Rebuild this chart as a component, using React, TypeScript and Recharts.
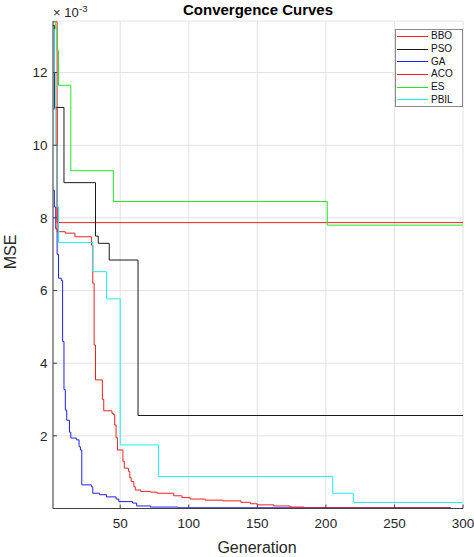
import React from 'react';
import { LineChart, Line, XAxis, YAxis, CartesianGrid, Legend } from 'recharts';

// ---- data (MSE in units of 1e-3) ----
const SERIES_NAMES = ['BBO', 'PSO', 'GA', 'ACO', 'ES', 'PBIL'];
const SERIES_COLORS = ['#f02020', '#1a1a1a', '#2020f0', '#f02020', '#20e820', '#20eeee'];
const X_TICKS = [50, 100, 150, 200, 250, 300];
const Y_TICKS = [2, 4, 6, 8, 10, 12];

const BBO_GEN = [1, 4, 300];
const BBO_MSE = [13.4, 7.87, 7.87];

const PSO_GEN = [1, 2, 9, 32, 34, 42, 63, 300];
const PSO_MSE = [13.3, 11.04, 8.97, 7.5, 7.3, 6.84, 2.56, 2.56];

const GA_GEN = [1, 2, 3, 4, 5, 7, 8, 9, 10, 11, 13, 14, 18, 20, 21, 22, 29, 30, 35, 40, 47, 49, 59, 62, 72, 92, 291];
const GA_MSE = [8.76, 8.3, 7.7, 7.0, 6.34, 6.28, 4.6, 3.27, 2.71, 2.43, 2.1, 1.94, 1.89, 1.7, 1.61, 0.65, 0.6, 0.42, 0.38, 0.32, 0.26, 0.19, 0.15, 0.07, 0.04, 0.02, 0.02];

const ACO_GEN = [1, 4, 10, 17, 29, 30, 31, 32, 37, 38, 44, 45, 46, 47, 48, 52, 53, 56, 57, 58, 60, 61, 65, 72, 77, 89, 95, 101, 112, 125, 138, 145, 150, 162, 174, 184, 291];
const ACO_MSE = [11.0, 7.62, 7.58, 7.48, 7.25, 6.2, 4.5, 3.54, 3.0, 2.69, 2.62, 2.58, 2.3, 1.95, 1.61, 1.3, 1.11, 1.02, 0.85, 0.74, 0.6, 0.51, 0.47, 0.45, 0.42, 0.35, 0.3, 0.26, 0.23, 0.21, 0.17, 0.13, 0.1, 0.07, 0.04, 0.02, 0.02];

const ES_GEN = [1, 3, 4, 5, 14, 45, 201, 300];
const ES_MSE = [13.4, 13.2, 12.6, 11.65, 9.3, 8.45, 7.8, 7.8];

const PBIL_GEN = [1, 2, 3, 4, 5, 30, 40, 50, 78, 205, 220, 300];
const PBIL_MSE = [13.2, 12.0, 10.0, 8.3, 7.32, 6.52, 5.77, 1.75, 0.88, 0.42, 0.165, 0.165];

const GENS = [BBO_GEN, PSO_GEN, GA_GEN, ACO_GEN, ES_GEN, PBIL_GEN];
const VALUES = [BBO_MSE, PSO_MSE, GA_MSE, ACO_MSE, ES_MSE, PBIL_MSE];

const seriesData = SERIES_NAMES.map((name, s) => ({
  name,
  color: SERIES_COLORS[s],
  data: GENS[s].map((g, i) => ({ gen: g, mse: VALUES[s][i] })),
}));

const FONT = '"Liberation Sans", Arial, Helvetica, sans-serif';
const X_DOMAIN: [number, number] = [1, 300];
const Y_DOMAIN: [number, number] = [0, 13.42];

const renderLegend = () => (
  <div
    style={{
      width: 68,
      height: 78,
      boxSizing: 'border-box',
      border: '1px solid #8a8a8a',
      background: '#ffffff',
      fontFamily: FONT,
    }}
  >
    {SERIES_NAMES.map((name, i) => (
      <div key={name} style={{ height: 12.7, display: 'flex', alignItems: 'center' }}>
        <div style={{ marginLeft: 1, width: 31, height: 0, borderTop: `1px solid ${SERIES_COLORS[i]}` }} />
        <span style={{ marginLeft: 3, fontSize: 10, color: '#111', lineHeight: '12px' }}>{name}</span>
      </div>
    ))}
  </div>
);

export default function App() {
  return (
    <div style={{ position: 'absolute', left: 0, top: 0, width: 474, height: 557, background: '#fff' }}>
      <LineChart width={474} height={557} margin={{ top: 21, right: 11, bottom: 0, left: 0 }}>
        <CartesianGrid stroke="#e2e2e2" strokeWidth={1} />
        <XAxis
          xAxisId={0}
          dataKey="gen"
          type="number"
          domain={X_DOMAIN}
          ticks={X_TICKS}
          interval={0}
          height={48.5}
          allowDataOverflow
          axisLine={{ stroke: '#404040' }}
          tickLine={{ stroke: '#404040' }}
          tickSize={-4}
          tickMargin={13.5}
          tick={{ fill: '#262626', fontSize: 13.5, fontFamily: FONT }}
        />
        <XAxis
          xAxisId="top"
          orientation="top"
          type="number"
          domain={X_DOMAIN}
          ticks={X_TICKS}
          interval={0}
          height={0}
          allowDataOverflow
          axisLine={{ stroke: '#404040' }}
          tickLine={{ stroke: '#404040' }}
          tickSize={-4}
          tick={false}
        />
        <YAxis
          yAxisId={0}
          type="number"
          domain={Y_DOMAIN}
          ticks={Y_TICKS}
          interval={0}
          width={53}
          allowDataOverflow
          axisLine={{ stroke: '#404040' }}
          tickLine={{ stroke: '#404040' }}
          tickSize={-4}
          tickMargin={9.5}
          tick={{ fill: '#262626', fontSize: 13.5, fontFamily: FONT }}
        />
        <YAxis
          yAxisId="right"
          orientation="right"
          type="number"
          domain={Y_DOMAIN}
          ticks={Y_TICKS}
          interval={0}
          width={0}
          allowDataOverflow
          axisLine={{ stroke: '#404040' }}
          tickLine={{ stroke: '#404040' }}
          tickSize={-4}
          tick={false}
        />
        {seriesData.map((s) => (
          <Line
            key={s.name}
            data={s.data}
            dataKey="mse"
            name={s.name}
            type="stepAfter"
            stroke={s.color}
            strokeWidth={1}
            dot={false}
            activeDot={false}
            isAnimationActive={false}
          />
        ))}
        <Legend
          layout="vertical"
          align="center"
          verticalAlign="middle"
          content={renderLegend}
          wrapperStyle={{ left: 395, top: 29, width: 68, height: 78 }}
        />
      </LineChart>
      <svg
        width={474}
        height={557}
        style={{ position: 'absolute', left: 0, top: 0, pointerEvents: 'none' }}
        fontFamily={FONT}
      >
        <text x={258} y={14.5} textAnchor="middle" fontSize={15} fontWeight="bold" fill="#000">
          Convergence Curves
        </text>
        <text x={257} y={552.5} textAnchor="middle" fontSize={16} fill="#262626">
          Generation
        </text>
        <text transform="translate(16,252) rotate(-90)" textAnchor="middle" fontSize={16} fill="#262626">
          MSE
        </text>
        <text x={53} y={16.5} fontSize={13} fill="#262626">
          × 10
        </text>
        <text x={79} y={11.5} fontSize={9.5} fill="#262626">
          -3
        </text>
      </svg>
    </div>
  );
}
